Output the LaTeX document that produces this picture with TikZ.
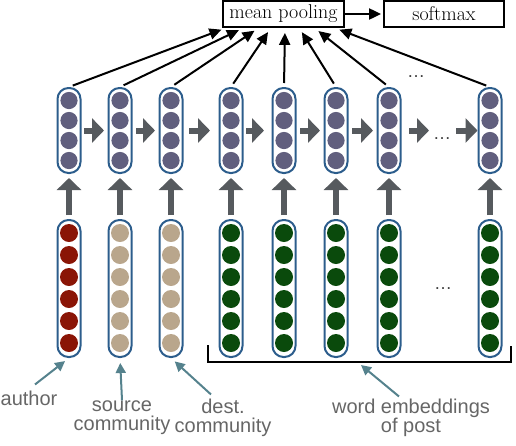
\documentclass[tikz,border=0pt]{standalone}
\usepackage{fontspec}
\newfontfamily\lab{Liberation Sans}
\usetikzlibrary{arrows.meta,calc}
\definecolor{capb}{HTML}{2C5D8C}
\definecolor{upc}{HTML}{615F7E}
\definecolor{redc}{HTML}{8A1506}
\definecolor{tanc}{HTML}{B9A68C}
\definecolor{grnc}{HTML}{0A4A0C}
\definecolor{arrg}{HTML}{565A5E}
\definecolor{tealc}{HTML}{55828D}
\definecolor{labg}{HTML}{666666}
\begin{document}
\begin{tikzpicture}[x=1pt,y=-1pt,
  capsule/.style={draw=capb,line width=2pt,rounded corners=11pt,minimum width=23pt,inner sep=0pt},
  upcap/.style={capsule,minimum height=85pt},
  lowcap/.style={capsule,minimum height=137pt},
  box/.style={draw,line width=1.8pt,minimum height=26pt,inner sep=0pt,font=\fontsize{20}{22}\selectfont},
  garrow/.style={draw=arrg,line width=6pt,-{Triangle[length=12pt,width=24pt]}},
  barrow/.style={line width=2pt,-{Triangle[length=12pt,width=11pt]}},
  tarrow/.style={draw=tealc,line width=2pt,-{Triangle[length=10pt,width=10pt]}},
  lbl/.style={text=labg,font=\lab\fontsize{20}{19}\selectfont,align=center,inner sep=0pt},
  dotsty/.style={text=black!75,font=\lab\fontsize{18}{18}\selectfont,inner sep=0pt},
]
\useasboundingbox (0,0) rectangle (516,445);

% boxes
\node[box,minimum width=121pt] (pool) at (283.5,14) {mean pooling};
\node[box,minimum width=120pt] (soft) at (444,14) {softmax};
\draw[barrow,shorten >=2pt] (pool.east) -- (soft.west);

% capsules
\foreach \i/\x/\c in {1/69/redc,2/120/tanc,3/171/tanc,4/231/grnc,5/284/grnc,6/336/grnc,7/389/grnc,8/490/grnc}{
  \node[upcap] (u\i) at (\x,130.5) {};
  \foreach \k in {0,...,3} \fill[upc] (\x,100.5+20*\k) circle (8.6pt);
  \node[lowcap] (l\i) at (\x,288.5) {};
  \foreach \k in {0,...,5} \fill[\c] (\x,233+22*\k) circle (9pt);
  \draw[garrow,shorten <=4pt,shorten >=4pt] (l\i.north) -- (u\i.south);
}

% horizontal recurrent arrows
\draw[garrow,shorten <=2.5pt,shorten >=3.5pt] (u1.east) -- (u2.west);
\draw[garrow,shorten <=3.5pt,shorten >=3.5pt] (u2.east) -- (u3.west);
\draw[garrow,shorten <=5.5pt,shorten >=8.5pt] (u3.east) -- (u4.west);
\draw[garrow,shorten <=2.5pt,shorten >=7.5pt] (u4.east) -- (u5.west);
\draw[garrow,shorten <=3.5pt,shorten >=3.5pt] (u5.east) -- (u6.west);
\draw[garrow,shorten <=3.5pt,shorten >=3.5pt] (u6.east) -- (u7.west);
\coordinate (ha) at (429,130.5);
\coordinate (hb) at (456,130.5);
\draw[garrow,shorten <=7.5pt] (u7.east) -- (ha);
\draw[garrow] (hb) -- (u8.west);
\node[dotsty] (hd) at (442,139) {\dots};
\node[dotsty] (td) at (416,77) {\dots};
\node[dotsty] (ld) at (443,289) {\dots};

% arrows to mean pooling
\foreach \i/\f in {1/0.033,2/0.174,3/0.298,4/0.397,5/0.512,6/0.628,7/0.752,8/0.917}{
  \coordinate (p\i) at ($(pool.south west)!\f!(pool.south east)$);
  \draw[barrow,shorten <=4pt,shorten >=5pt] (u\i.north) -- (p\i);
}

% bracket
\draw[line width=2pt] (208,345) -- (208,362) -- (511,362) -- (511,346);

% labels
\node[lbl] (author) at (29,398) {author};
\node[lbl] (src) at (122,417.5) {source\\community};
\node[lbl] (dst) at (223,417.5) {dest.\\community};
\node[lbl] (word) at (411,417.5) {word embeddings\\of post};
\coordinate (bk) at (361,365);

\draw[tarrow,shorten >=5pt] ([xshift=6pt,yshift=6pt]author.north) -- (l1.south);
\draw[tarrow,shorten >=5pt] (src.north) -- (l2.south);
\draw[tarrow,shorten >=5pt] ([xshift=-12pt,yshift=4pt]dst.north) -- (l3.south);
\draw[tarrow] ([xshift=-12pt,yshift=2pt]word.north) -- (bk);
\end{tikzpicture}
\end{document}
